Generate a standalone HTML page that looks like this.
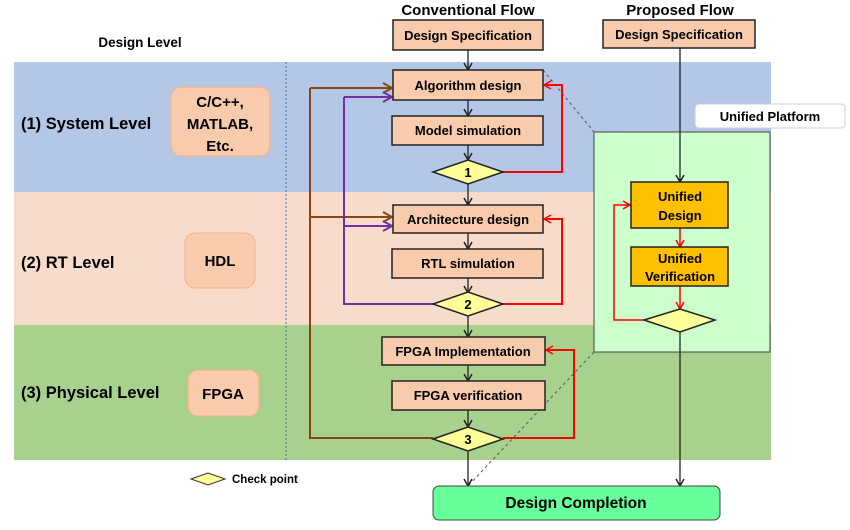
<!DOCTYPE html>
<html><head><meta charset="utf-8"><style>
body{margin:0;background:#fff}
svg text{font-family:"Liberation Sans",sans-serif;font-weight:bold}
</style></head><body>
<svg width="850" height="525" viewBox="0 0 850 525" xmlns="http://www.w3.org/2000/svg">
<defs>
<marker id="ak" markerWidth="10" markerHeight="10" refX="8" refY="5" orient="auto" markerUnits="userSpaceOnUse"><path d="M1,1 L8,5 L1,9" fill="none" stroke="#222" stroke-width="1.5"/></marker>
<marker id="ar" markerWidth="10" markerHeight="10" refX="8" refY="5" orient="auto" markerUnits="userSpaceOnUse"><path d="M1,1 L8,5 L1,9" fill="none" stroke="#f00" stroke-width="1.5"/></marker>
<marker id="ab" markerWidth="12" markerHeight="12" refX="10" refY="6" orient="auto" markerUnits="userSpaceOnUse"><path d="M1,1 L10,6 L1,11" fill="none" stroke="#8b4513" stroke-width="2"/></marker>
<marker id="ap" markerWidth="12" markerHeight="12" refX="10" refY="6" orient="auto" markerUnits="userSpaceOnUse"><path d="M1,1 L10,6 L1,11" fill="none" stroke="#7030a0" stroke-width="2"/></marker>
</defs>
<rect x="14" y="62" width="757" height="130" fill="#b4c7e7"/>
<rect x="14" y="192" width="757" height="133" fill="#f8dccb"/>
<rect x="14" y="325" width="757" height="135" fill="#a9d18e"/>
<line x1="286" y1="62" x2="286" y2="460" stroke="#2e75b6" stroke-width="1" stroke-dasharray="2,2"/>
<text x="140" y="47" font-size="13.5" text-anchor="middle">Design Level</text>
<text x="21" y="129" font-size="16.5">(1) System Level</text>
<text x="21" y="268" font-size="16.5">(2) RT Level</text>
<text x="21" y="398" font-size="16.5">(3) Physical Level</text>
<rect x="171" y="87" width="99" height="69" rx="10" fill="#f8cbad" stroke="#f4b183"/>
<text x="220" y="107" font-size="15" text-anchor="middle">C/C++,</text>
<text x="220" y="129" font-size="15" text-anchor="middle">MATLAB,</text>
<text x="220" y="151" font-size="15" text-anchor="middle">Etc.</text>
<rect x="185" y="233" width="70" height="55" rx="10" fill="#f8cbad" stroke="#f4b183"/>
<text x="220" y="266" font-size="15" text-anchor="middle">HDL</text>
<rect x="188" y="370" width="71" height="46" rx="10" fill="#f8cbad" stroke="#f4b183"/>
<text x="223" y="399" font-size="15" text-anchor="middle">FPGA</text>
<polygon points="191,479 208,473 225,479 208,485" fill="#ffff99" stroke="#333"/>
<text x="232" y="483" font-size="11.5">Check point</text>
<text x="468" y="15" font-size="15" text-anchor="middle">Conventional Flow</text>
<text x="680" y="15" font-size="15" text-anchor="middle">Proposed Flow</text>
<line x1="543" y1="70" x2="594" y2="132" stroke="#555" stroke-dasharray="3,3"/>
<line x1="594" y1="352" x2="468" y2="486" stroke="#555" stroke-dasharray="3,3"/>
<rect x="594" y="132" width="176" height="220" fill="#ccffcc" stroke="#444"/>
<rect x="695" y="104" width="150" height="24" rx="4" fill="#fff" stroke="#ccd"/>
<text x="770" y="121" font-size="13" text-anchor="middle">Unified Platform</text>
<g stroke="#222" stroke-width="1.3" fill="none" marker-end="url(#ak)">
<line x1="468" y1="50" x2="468" y2="70"/>
<line x1="468" y1="100" x2="468" y2="116"/>
<line x1="468" y1="145" x2="468" y2="160"/>
<line x1="468" y1="183" x2="468" y2="205"/>
<line x1="468" y1="233" x2="468" y2="249"/>
<line x1="468" y1="278" x2="468" y2="293"/>
<line x1="468" y1="315" x2="468" y2="337"/>
<line x1="468" y1="365" x2="468" y2="381"/>
<line x1="468" y1="410" x2="468" y2="427"/>
<line x1="468" y1="450" x2="468" y2="486"/>
<line x1="680" y1="48" x2="680" y2="182"/>
<line x1="680" y1="332" x2="680" y2="486"/>
</g>
<g stroke="#f00" stroke-width="2" fill="none" marker-end="url(#ar)">
<polyline points="503,172 562,172 562,85 544,85"/>
<polyline points="503,304 562,304 562,219 544,219"/>
<polyline points="503,438 574,438 574,350 546,350"/>
<polyline points="644,320 614,320 614,205 630,205" stroke-width="1.5"/>
<line x1="680" y1="228" x2="680" y2="247" stroke-width="1.5"/>
<line x1="680" y1="286" x2="680" y2="309" stroke-width="1.5"/>
</g>
<g stroke="#8b4513" stroke-width="2" fill="none">
<polyline points="433,438 310,438 310,88"/>
<line x1="310" y1="88" x2="392" y2="88" marker-end="url(#ab)"/>
<line x1="310" y1="217" x2="392" y2="217" marker-end="url(#ab)"/>
</g>
<g stroke="#7030a0" stroke-width="2" fill="none">
<polyline points="433,304 344,304 344,97"/>
<line x1="344" y1="97" x2="392" y2="97" marker-end="url(#ap)"/>
<line x1="344" y1="226" x2="392" y2="226" marker-end="url(#ap)"/>
</g>
<g fill="#f8cbad" stroke="#222" stroke-width="1.5">
<rect x="393" y="20" width="150" height="30"/>
<rect x="393" y="70" width="150" height="30"/>
<rect x="392" y="116" width="151" height="29"/>
<rect x="393" y="205" width="150" height="28"/>
<rect x="392" y="249" width="151" height="29"/>
<rect x="382" y="337" width="163" height="28"/>
<rect x="392" y="381" width="153" height="29"/>
<rect x="603" y="20" width="152" height="28"/>
</g>
<g fill="#ffff99" stroke="#222" stroke-width="1.5">
<polygon points="433,172 468,160 503,172 468,184"/>
<polygon points="433,304 468,292 503,304 468,316"/>
<polygon points="433,439 468,427 503,439 468,451"/>
<polygon points="644,320 680,309 715,320 680,332"/>
</g>
<g fill="#ffc000" stroke="#222" stroke-width="1.5">
<rect x="631" y="182" width="97" height="46"/>
<rect x="631" y="247" width="97" height="39"/>
</g>
<rect x="433" y="486" width="287" height="34" rx="6" fill="#66ff99" stroke="#444"/>
<g font-size="13" text-anchor="middle">
<text x="468" y="40">Design Specification</text>
<text x="468" y="90">Algorithm design</text>
<text x="468" y="135">Model simulation</text>
<text x="468" y="177">1</text>
<text x="468" y="224">Architecture design</text>
<text x="468" y="268">RTL simulation</text>
<text x="468" y="309">2</text>
<text x="463" y="356">FPGA Implementation</text>
<text x="468" y="400">FPGA verification</text>
<text x="468" y="444">3</text>
<text x="679" y="39">Design Specification</text>
<text x="680" y="201">Unified</text>
<text x="680" y="220">Design</text>
<text x="680" y="263">Unified</text>
<text x="680" y="281">Verification</text>
<text x="576" y="508" font-size="15.5">Design Completion</text>
</g>
</svg>
</body></html>
